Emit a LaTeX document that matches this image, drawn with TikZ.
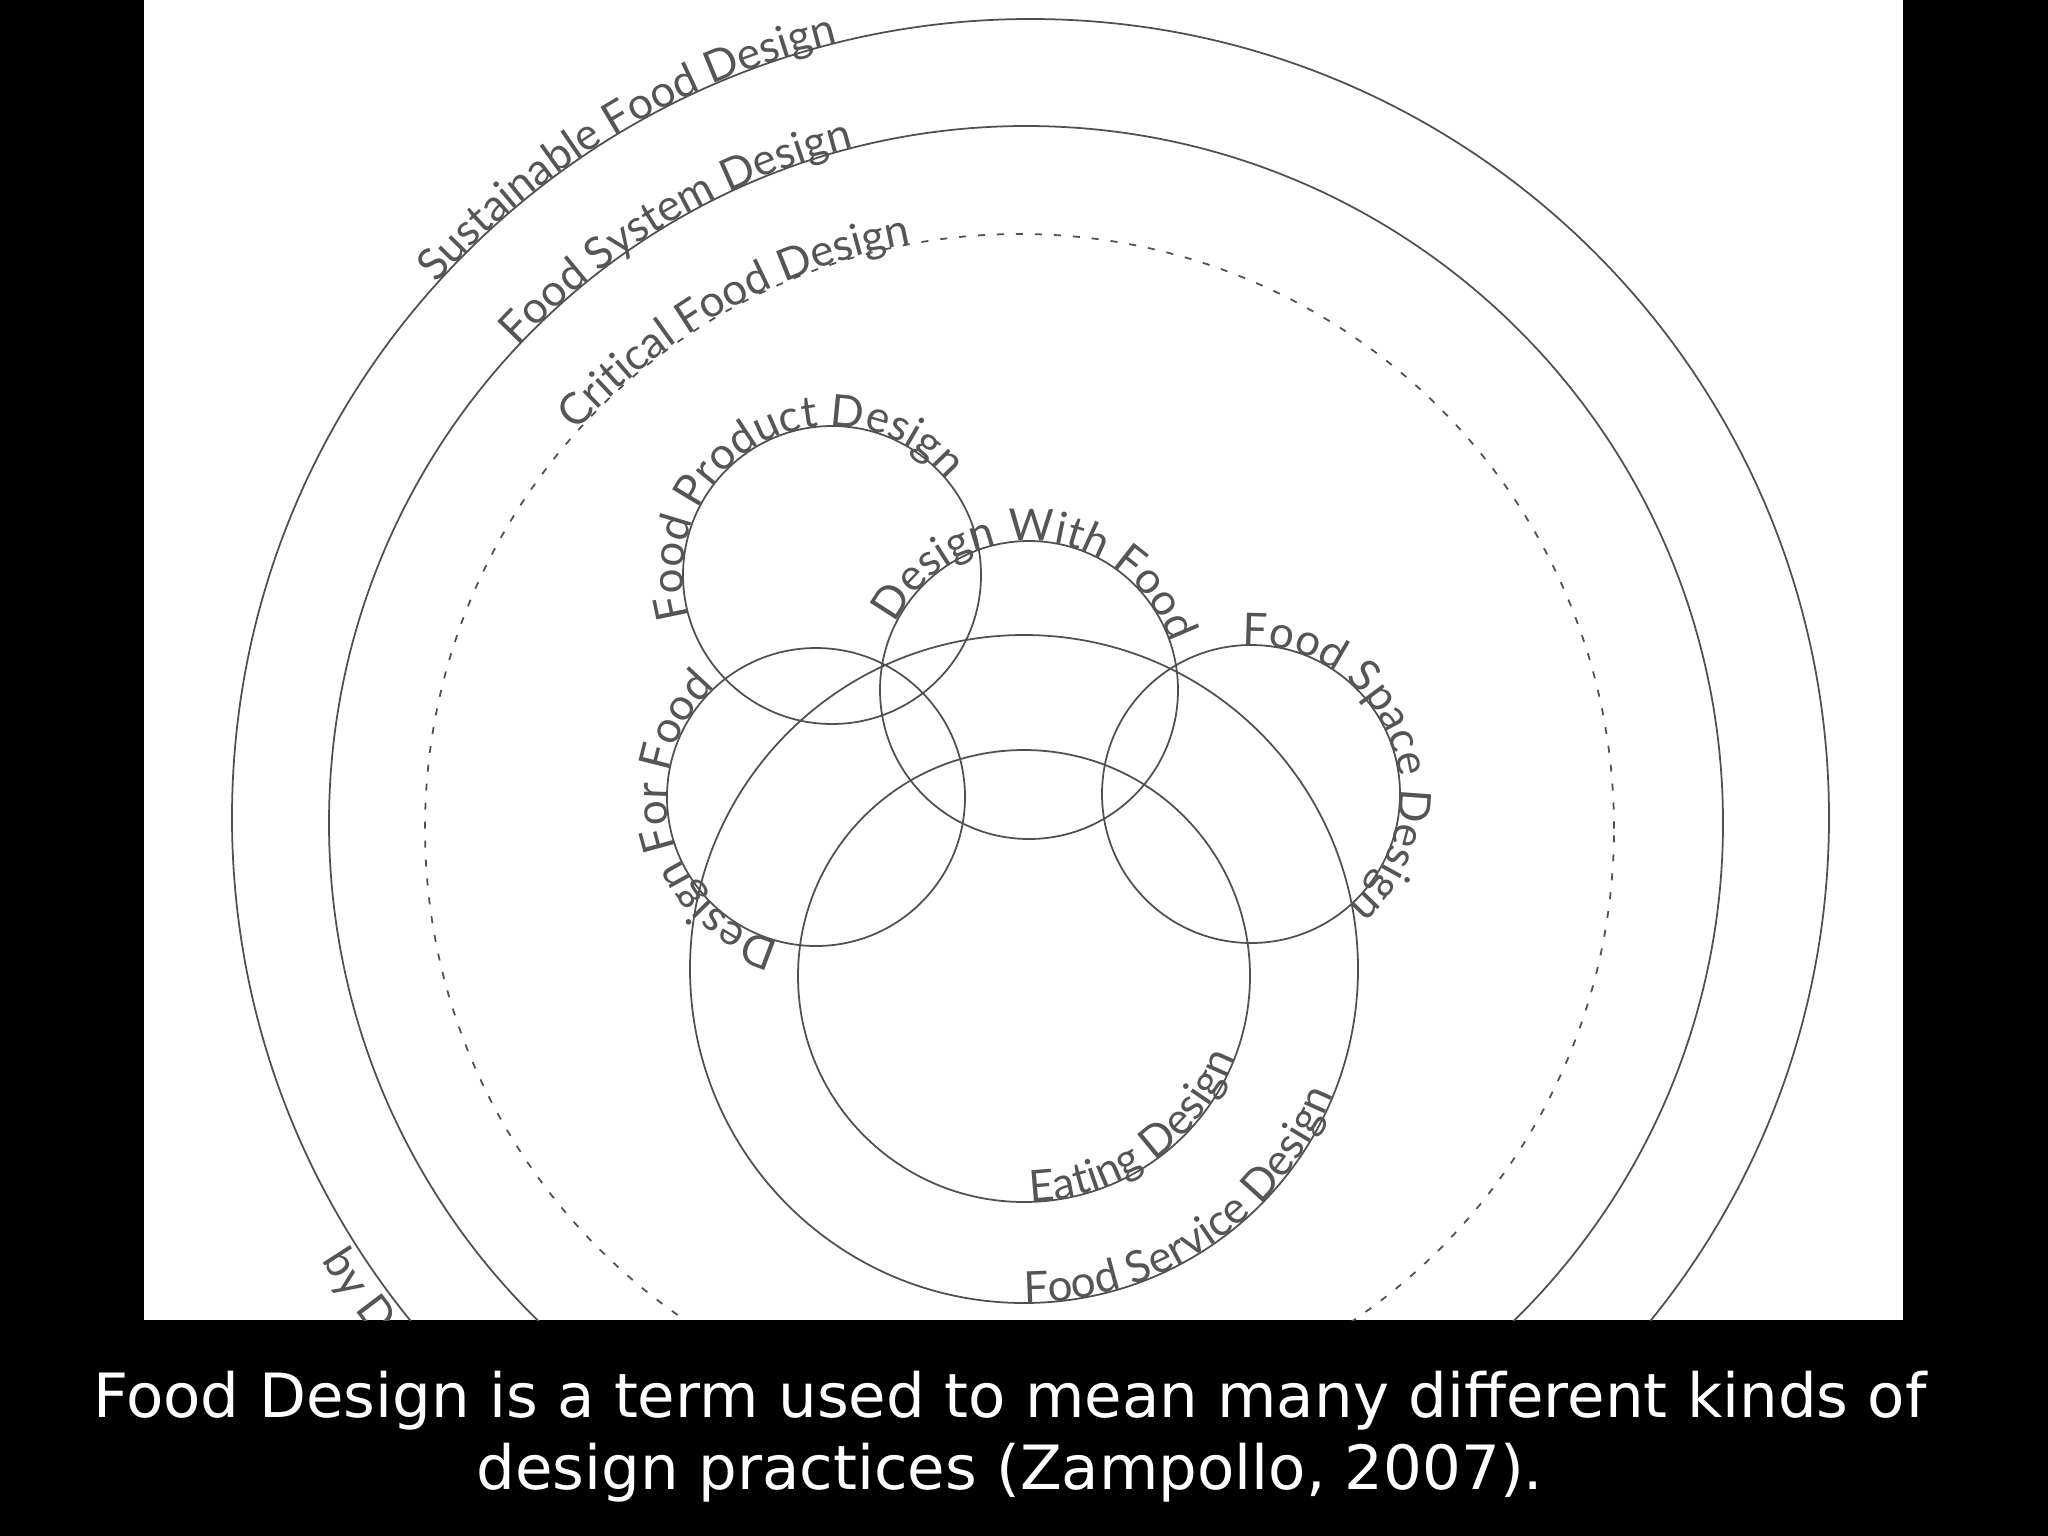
\documentclass[tikz,border=0pt]{standalone}
\usepackage{fontspec}
\usetikzlibrary{decorations.text}
\newfontfamily\labfont{Lato}
\newfontfamily\capfont{DejaVu Sans}
\definecolor{ink}{HTML}{505050}
\definecolor{labink}{HTML}{555555}
\begin{document}
\begin{tikzpicture}[x=0.01cm,y=0.01cm,
  ring/.style={draw=ink, line width=0.5pt},
  dring/.style={ring, dash pattern=on 2pt off 3.4pt},
  lbl/.style={decorate, decoration={text along path, text align=center,
     text={|\labfont\fontsize{12.5}{15}\selectfont\color{labink}|#1}}},
  lbll/.style={decorate, decoration={text along path, text align=left,
     text={|\labfont\fontsize{12.5}{15}\selectfont\color{labink}|#1}}},
  captxt/.style={font=\capfont\fontsize{17.35}{20}\selectfont, text=white, anchor=base, inner sep=0pt}
]
\useasboundingbox (0,0) rectangle (2048,-1536);
\fill[black] (0,0) rectangle (2048,-1536);
\fill[white] (144,0) rectangle (1903,-1320);

\begin{scope}
\clip (144,0) rectangle (1903,-1320);
\coordinate (c1) at (1030.5,-817.5);
\coordinate (c2) at (1026,-823);
\coordinate (c3) at (1019.5,-828.5);
\coordinate (fp) at (832,-575);
\coordinate (dw) at (1029,-690);
\coordinate (df) at (816,-797);
\coordinate (fs) at (1251,-794);
\coordinate (sv) at (1024,-969);
\coordinate (ea) at (1024,-976);

% rings
\draw[ring] (c1) circle[radius=798.5];
\draw[ring] (c2) circle[radius=697];
\draw[dring] (c3) circle[radius=594.5];
\draw[ring] (fp) circle[radius=149];
\draw[ring] (dw) circle[radius=149];
\draw[ring] (df) circle[radius=149];
\draw[ring] (fs) circle[radius=149];
\draw[ring] (sv) circle[radius=334];
\draw[ring] (ea) circle[radius=226];

% labels outside (clockwise paths)
\path[lbl={Sustainable Food Design}] (c1) ++(181:798.5) arc[start angle=181, end angle=61, radius=798.5];
\path[lbl={Food System Design}] (c2) ++(180.6:697) arc[start angle=180.6, end angle=60.6, radius=697];
\path[lbl={Critical Food Design}] (c3) ++(179.3:594.5) arc[start angle=179.3, end angle=59.3, radius=594.5];
\path[lbl={Food Product Design}] (fp) ++(218:149) arc[start angle=218, end angle=18, radius=149];
\path[lbl={Design With Food}] (dw) ++(186:149) arc[start angle=186, end angle=-14, radius=149];
\path[lbl={Design For Food}] (df) ++(294:149) arc[start angle=294, end angle=94, radius=149];
\path[lbl={Food Space Design}] (fs) ++(122:149) arc[start angle=122, end angle=-78, radius=149];

% labels inside (counter-clockwise paths)
\path[lbl={Eating Design}] (ea) ++(-154.7:226) arc[start angle=-154.7, end angle=45.3, radius=226];
\path[lbl={Food Service Design}] (sv) ++(-156:334) arc[start angle=-156, end angle=44, radius=334];
\path[lbll={by D}] (c1) ++(212:836) arc[start angle=212, end angle=240, radius=836];
\end{scope}

\node[captxt] (cap1) at (1010,-1417) {Food Design is a term used to mean many different kinds of};
\node[captxt] (cap2) at (1010,-1489) {design practices (Zampollo, 2007).};
\end{tikzpicture}
\end{document}
